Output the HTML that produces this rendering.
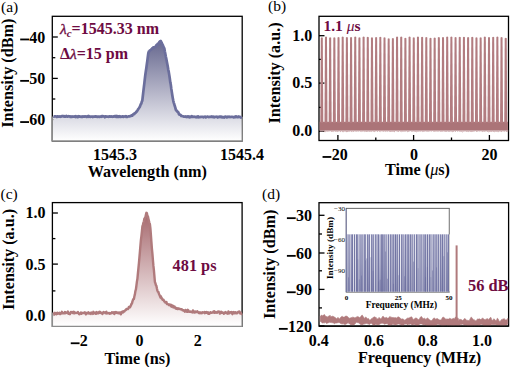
<!DOCTYPE html>
<html><head><meta charset="utf-8"><style>
html,body{margin:0;padding:0;background:#fff;width:510px;height:367px;overflow:hidden}
svg{display:block}
text{font-family:"Liberation Serif",serif}
</style></head><body>
<svg width="510" height="367" viewBox="0 0 510 367" font-family="Liberation Serif, serif"><defs><linearGradient id="ga" x1="0" y1="41" x2="0" y2="141" gradientUnits="userSpaceOnUse"><stop offset="0" stop-color="#67688f"/><stop offset="1" stop-color="#ffffff"/></linearGradient><linearGradient id="gc" x1="0" y1="212" x2="0" y2="326" gradientUnits="userSpaceOnUse"><stop offset="0" stop-color="#a5676c"/><stop offset="1" stop-color="#ffffff"/></linearGradient></defs>
<text x="1.00" y="11.50" font-size="15.5" text-anchor="start" font-weight="normal" fill="#000" >(a)</text>
<line x1="52.30" y1="37.00" x2="57.80" y2="37.00" stroke="#000" stroke-width="1.3"/>
<rect x="20.20" y="38.56" width="8.8" height="1.8" fill="#000"/>
<text x="29.30" y="42.50" font-size="16.0" text-anchor="start" font-weight="bold" fill="#000" >40</text>
<line x1="52.30" y1="78.40" x2="57.80" y2="78.40" stroke="#000" stroke-width="1.3"/>
<rect x="20.20" y="79.96" width="8.8" height="1.8" fill="#000"/>
<text x="29.30" y="83.90" font-size="16.0" text-anchor="start" font-weight="bold" fill="#000" >50</text>
<line x1="52.30" y1="119.60" x2="57.80" y2="119.60" stroke="#000" stroke-width="1.3"/>
<rect x="20.20" y="121.16" width="8.8" height="1.8" fill="#000"/>
<text x="29.30" y="125.10" font-size="16.0" text-anchor="start" font-weight="bold" fill="#000" >60</text>
<line x1="52.30" y1="57.70" x2="55.30" y2="57.70" stroke="#000" stroke-width="1.3"/>
<line x1="52.30" y1="99.00" x2="55.30" y2="99.00" stroke="#000" stroke-width="1.3"/>
<text x="93.00" y="159.80" font-size="16.0" text-anchor="start" font-weight="bold" fill="#000" >1545.3</text>
<text x="220.00" y="159.80" font-size="16.0" text-anchor="start" font-weight="bold" fill="#000" >1545.4</text>
<text x="147.30" y="176.90" font-size="16.2" text-anchor="middle" font-weight="bold" fill="#000" >Wavelength (nm)</text>
<text transform="translate(12.50,73.20) rotate(-90)" x="0" y="0" font-size="16.2" text-anchor="middle" font-weight="bold" fill="#000">Intensity (dBm)</text>
<rect x="52.3" y="16.3" width="189.89999999999998" height="124.60000000000001" fill="none" stroke="#000" stroke-width="1.3"/>
<path d="M53.30,116.60 53.80,116.68 54.30,116.52 54.80,116.35 55.30,116.47 55.80,116.32 56.30,116.62 56.80,116.98 57.30,116.46 57.80,116.43 58.30,116.74 58.80,116.70 59.30,116.63 59.80,116.34 60.30,116.59 60.80,116.79 61.30,116.22 61.80,116.47 62.30,116.07 62.80,116.24 63.30,116.08 63.80,116.53 64.30,116.25 64.80,116.68 65.30,116.64 65.80,116.55 66.30,115.90 66.80,116.45 67.30,116.59 67.80,116.63 68.30,116.17 68.80,116.47 69.30,116.33 69.80,116.37 70.30,116.90 70.80,116.37 71.30,116.59 71.80,116.85 72.30,116.44 72.80,116.57 73.30,116.63 73.80,116.62 74.30,116.26 74.80,116.62 75.30,116.98 75.80,116.17 76.30,116.84 76.80,116.63 77.30,116.42 77.80,117.16 78.30,116.81 78.80,116.26 79.30,116.62 79.80,116.76 80.30,116.55 80.80,116.79 81.30,116.58 81.80,116.79 82.30,117.00 82.80,116.41 83.30,116.66 83.80,116.47 84.30,116.64 84.80,116.27 85.30,116.44 85.80,116.55 86.30,116.85 86.80,116.92 87.30,116.23 87.80,116.38 88.30,116.78 88.80,116.04 89.30,116.47 89.80,116.57 90.30,116.95 90.80,116.79 91.30,116.51 91.80,116.50 92.30,116.53 92.80,117.03 93.30,116.48 93.80,116.51 94.30,116.70 94.80,116.57 95.30,116.54 95.80,116.29 96.30,116.60 96.80,116.48 97.30,116.93 97.80,116.78 98.30,116.59 98.80,116.79 99.30,116.50 99.80,116.89 100.30,116.60 100.80,116.76 101.30,116.24 101.80,116.70 102.30,116.13 102.80,116.03 103.30,116.51 103.80,116.35 104.30,116.65 104.80,117.23 105.30,116.37 105.80,116.43 106.30,116.66 106.80,116.74 107.30,116.55 107.80,116.54 108.30,116.80 108.80,116.75 109.30,116.31 109.80,116.58 110.30,116.61 110.80,116.30 111.30,116.67 111.80,116.36 112.30,116.87 112.80,116.65 113.30,116.63 113.80,116.43 114.30,116.57 114.80,116.04 115.30,116.28 115.80,116.70 116.30,116.00 116.80,116.84 117.30,116.11 117.80,116.81 118.30,116.36 118.80,116.82 119.30,116.64 119.80,116.17 120.30,116.95 120.80,117.00 121.30,116.58 121.80,116.52 122.30,116.56 122.80,116.33 123.30,116.91 123.80,116.45 124.30,116.59 124.80,116.38 125.30,116.42 125.80,116.24 126.30,116.95 126.80,116.56 127.30,116.87 127.80,116.60 128.30,116.36 128.80,116.38 129.30,116.23 129.80,116.30 130.30,116.11 130.80,116.05 131.30,115.50 131.80,115.31 132.30,115.65 132.80,114.65 133.30,114.19 133.80,114.23 134.30,114.18 134.80,113.03 135.30,113.03 135.80,112.56 136.30,111.66 136.80,111.61 137.30,110.64 137.80,109.92 138.30,108.94 138.80,108.53 139.30,107.50 139.80,106.86 140.30,105.49 140.80,104.14 141.30,103.53 141.80,101.68 142.30,100.58 142.80,96.24 143.30,91.88 143.80,87.61 144.30,83.68 144.80,79.17 145.30,74.96 145.80,71.45 146.30,68.21 146.80,64.51 147.30,60.86 147.80,57.04 148.30,53.25 148.80,51.59 149.30,51.15 149.80,50.40 150.30,50.15 150.80,49.78 151.30,49.35 151.80,48.93 152.30,48.18 152.80,48.42 153.30,47.34 153.80,47.62 154.30,47.20 154.80,46.99 155.30,46.96 155.80,46.54 156.30,45.37 156.80,44.69 157.30,44.87 157.80,43.84 158.30,43.60 158.80,43.32 159.30,42.10 159.80,41.45 160.30,41.59 160.80,41.01 161.30,42.04 161.80,43.23 162.30,44.09 162.80,45.02 163.30,46.51 163.80,47.39 164.30,48.32 164.80,51.26 165.30,53.76 165.80,56.54 166.30,58.80 166.80,61.55 167.30,64.11 167.80,66.79 168.30,69.75 168.80,72.13 169.30,75.10 169.80,78.47 170.30,82.32 170.80,84.75 171.30,88.76 171.80,91.87 172.30,95.27 172.80,98.24 173.30,100.87 173.80,102.87 174.30,104.31 174.80,106.02 175.30,107.59 175.80,109.66 176.30,110.41 176.80,110.50 177.30,111.63 177.80,111.97 178.30,112.31 178.80,113.77 179.30,114.76 179.80,114.72 180.30,114.70 180.80,115.08 181.30,115.97 181.80,116.02 182.30,116.17 182.80,116.23 183.30,116.34 183.80,116.64 184.30,116.66 184.80,116.65 185.30,116.39 185.80,116.91 186.30,116.61 186.80,117.11 187.30,116.45 187.80,116.77 188.30,116.81 188.80,116.44 189.30,117.29 189.80,117.22 190.30,116.69 190.80,117.03 191.30,116.92 191.80,116.09 192.30,116.89 192.80,116.81 193.30,116.85 193.80,116.53 194.30,116.75 194.80,116.78 195.30,117.17 195.80,116.93 196.30,116.84 196.80,117.27 197.30,116.68 197.80,116.73 198.30,116.34 198.80,117.28 199.30,117.12 199.80,117.11 200.30,117.04 200.80,116.88 201.30,116.91 201.80,116.79 202.30,116.80 202.80,116.87 203.30,117.28 203.80,117.02 204.30,116.85 204.80,116.70 205.30,116.69 205.80,117.32 206.30,117.01 206.80,116.89 207.30,116.78 207.80,116.57 208.30,116.86 208.80,117.13 209.30,116.77 209.80,116.82 210.30,116.82 210.80,116.92 211.30,116.44 211.80,116.83 212.30,116.65 212.80,117.14 213.30,116.68 213.80,117.06 214.30,117.33 214.80,116.81 215.30,116.74 215.80,116.96 216.30,116.91 216.80,116.63 217.30,117.04 217.80,117.48 218.30,116.84 218.80,116.86 219.30,116.63 219.80,117.01 220.30,116.57 220.80,116.61 221.30,117.28 221.80,116.67 222.30,117.23 222.80,117.36 223.30,117.01 223.80,117.09 224.30,117.48 224.80,116.88 225.30,116.77 225.80,116.56 226.30,116.96 226.80,117.36 227.30,117.22 227.80,116.68 228.30,116.71 228.80,116.81 229.30,117.04 229.80,116.90 230.30,117.02 230.80,117.04 231.30,116.88 231.80,116.95 232.30,117.02 232.80,116.94 233.30,117.11 233.80,117.49 234.30,117.14 234.80,116.99 235.30,116.50 235.80,117.09 236.30,116.43 236.80,116.59 237.30,117.22 237.80,117.18 238.30,116.94 238.80,116.51 239.30,116.89 239.80,116.80 240.30,117.17 240.80,117.63 241.30,117.06 241.80,116.78 L242.20,140.90 L52.30,140.90 Z" fill="url(#ga)"/>
<polyline points="52.30,116.60 52.30,140.90 242.20,140.90 242.20,116.78" fill="none" stroke="#8c8c8c" stroke-width="1.3"/>
<polyline points="53.30,116.60 53.80,116.68 54.30,116.52 54.80,116.35 55.30,116.47 55.80,116.32 56.30,116.62 56.80,116.98 57.30,116.46 57.80,116.43 58.30,116.74 58.80,116.70 59.30,116.63 59.80,116.34 60.30,116.59 60.80,116.79 61.30,116.22 61.80,116.47 62.30,116.07 62.80,116.24 63.30,116.08 63.80,116.53 64.30,116.25 64.80,116.68 65.30,116.64 65.80,116.55 66.30,115.90 66.80,116.45 67.30,116.59 67.80,116.63 68.30,116.17 68.80,116.47 69.30,116.33 69.80,116.37 70.30,116.90 70.80,116.37 71.30,116.59 71.80,116.85 72.30,116.44 72.80,116.57 73.30,116.63 73.80,116.62 74.30,116.26 74.80,116.62 75.30,116.98 75.80,116.17 76.30,116.84 76.80,116.63 77.30,116.42 77.80,117.16 78.30,116.81 78.80,116.26 79.30,116.62 79.80,116.76 80.30,116.55 80.80,116.79 81.30,116.58 81.80,116.79 82.30,117.00 82.80,116.41 83.30,116.66 83.80,116.47 84.30,116.64 84.80,116.27 85.30,116.44 85.80,116.55 86.30,116.85 86.80,116.92 87.30,116.23 87.80,116.38 88.30,116.78 88.80,116.04 89.30,116.47 89.80,116.57 90.30,116.95 90.80,116.79 91.30,116.51 91.80,116.50 92.30,116.53 92.80,117.03 93.30,116.48 93.80,116.51 94.30,116.70 94.80,116.57 95.30,116.54 95.80,116.29 96.30,116.60 96.80,116.48 97.30,116.93 97.80,116.78 98.30,116.59 98.80,116.79 99.30,116.50 99.80,116.89 100.30,116.60 100.80,116.76 101.30,116.24 101.80,116.70 102.30,116.13 102.80,116.03 103.30,116.51 103.80,116.35 104.30,116.65 104.80,117.23 105.30,116.37 105.80,116.43 106.30,116.66 106.80,116.74 107.30,116.55 107.80,116.54 108.30,116.80 108.80,116.75 109.30,116.31 109.80,116.58 110.30,116.61 110.80,116.30 111.30,116.67 111.80,116.36 112.30,116.87 112.80,116.65 113.30,116.63 113.80,116.43 114.30,116.57 114.80,116.04 115.30,116.28 115.80,116.70 116.30,116.00 116.80,116.84 117.30,116.11 117.80,116.81 118.30,116.36 118.80,116.82 119.30,116.64 119.80,116.17 120.30,116.95 120.80,117.00 121.30,116.58 121.80,116.52 122.30,116.56 122.80,116.33 123.30,116.91 123.80,116.45 124.30,116.59 124.80,116.38 125.30,116.42 125.80,116.24 126.30,116.95 126.80,116.56 127.30,116.87 127.80,116.60 128.30,116.36 128.80,116.38 129.30,116.23 129.80,116.30 130.30,116.11 130.80,116.05 131.30,115.50 131.80,115.31 132.30,115.65 132.80,114.65 133.30,114.19 133.80,114.23 134.30,114.18 134.80,113.03 135.30,113.03 135.80,112.56 136.30,111.66 136.80,111.61 137.30,110.64 137.80,109.92 138.30,108.94 138.80,108.53 139.30,107.50 139.80,106.86 140.30,105.49 140.80,104.14 141.30,103.53 141.80,101.68 142.30,100.58 142.80,96.24 143.30,91.88 143.80,87.61 144.30,83.68 144.80,79.17 145.30,74.96 145.80,71.45 146.30,68.21 146.80,64.51 147.30,60.86 147.80,57.04 148.30,53.25 148.80,51.59 149.30,51.15 149.80,50.40 150.30,50.15 150.80,49.78 151.30,49.35 151.80,48.93 152.30,48.18 152.80,48.42 153.30,47.34 153.80,47.62 154.30,47.20 154.80,46.99 155.30,46.96 155.80,46.54 156.30,45.37 156.80,44.69 157.30,44.87 157.80,43.84 158.30,43.60 158.80,43.32 159.30,42.10 159.80,41.45 160.30,41.59 160.80,41.01 161.30,42.04 161.80,43.23 162.30,44.09 162.80,45.02 163.30,46.51 163.80,47.39 164.30,48.32 164.80,51.26 165.30,53.76 165.80,56.54 166.30,58.80 166.80,61.55 167.30,64.11 167.80,66.79 168.30,69.75 168.80,72.13 169.30,75.10 169.80,78.47 170.30,82.32 170.80,84.75 171.30,88.76 171.80,91.87 172.30,95.27 172.80,98.24 173.30,100.87 173.80,102.87 174.30,104.31 174.80,106.02 175.30,107.59 175.80,109.66 176.30,110.41 176.80,110.50 177.30,111.63 177.80,111.97 178.30,112.31 178.80,113.77 179.30,114.76 179.80,114.72 180.30,114.70 180.80,115.08 181.30,115.97 181.80,116.02 182.30,116.17 182.80,116.23 183.30,116.34 183.80,116.64 184.30,116.66 184.80,116.65 185.30,116.39 185.80,116.91 186.30,116.61 186.80,117.11 187.30,116.45 187.80,116.77 188.30,116.81 188.80,116.44 189.30,117.29 189.80,117.22 190.30,116.69 190.80,117.03 191.30,116.92 191.80,116.09 192.30,116.89 192.80,116.81 193.30,116.85 193.80,116.53 194.30,116.75 194.80,116.78 195.30,117.17 195.80,116.93 196.30,116.84 196.80,117.27 197.30,116.68 197.80,116.73 198.30,116.34 198.80,117.28 199.30,117.12 199.80,117.11 200.30,117.04 200.80,116.88 201.30,116.91 201.80,116.79 202.30,116.80 202.80,116.87 203.30,117.28 203.80,117.02 204.30,116.85 204.80,116.70 205.30,116.69 205.80,117.32 206.30,117.01 206.80,116.89 207.30,116.78 207.80,116.57 208.30,116.86 208.80,117.13 209.30,116.77 209.80,116.82 210.30,116.82 210.80,116.92 211.30,116.44 211.80,116.83 212.30,116.65 212.80,117.14 213.30,116.68 213.80,117.06 214.30,117.33 214.80,116.81 215.30,116.74 215.80,116.96 216.30,116.91 216.80,116.63 217.30,117.04 217.80,117.48 218.30,116.84 218.80,116.86 219.30,116.63 219.80,117.01 220.30,116.57 220.80,116.61 221.30,117.28 221.80,116.67 222.30,117.23 222.80,117.36 223.30,117.01 223.80,117.09 224.30,117.48 224.80,116.88 225.30,116.77 225.80,116.56 226.30,116.96 226.80,117.36 227.30,117.22 227.80,116.68 228.30,116.71 228.80,116.81 229.30,117.04 229.80,116.90 230.30,117.02 230.80,117.04 231.30,116.88 231.80,116.95 232.30,117.02 232.80,116.94 233.30,117.11 233.80,117.49 234.30,117.14 234.80,116.99 235.30,116.50 235.80,117.09 236.30,116.43 236.80,116.59 237.30,117.22 237.80,117.18 238.30,116.94 238.80,116.51 239.30,116.89 239.80,116.80 240.30,117.17 240.80,117.63 241.30,117.06 241.80,116.78" fill="none" stroke="#6b6e9c" stroke-width="2.7" stroke-linejoin="round"/>
<text x="60.00" y="33.60" font-size="16" text-anchor="start" font-weight="bold" fill="#6e0b42" ><tspan font-style="italic" font-weight="normal" font-size="15.5" stroke="#6e0b42" stroke-width="0.35">λ</tspan><tspan font-style="italic" font-size="11" dy="3.5">c</tspan><tspan dy="-3.5">=1545.33 nm</tspan></text>
<text x="60.00" y="58.60" font-size="16" text-anchor="start" font-weight="bold" fill="#6e0b42" >Δ<tspan font-style="italic" font-weight="normal" font-size="15.5" stroke="#6e0b42" stroke-width="0.35">λ</tspan>=15 pm</text>
<text x="268.00" y="11.00" font-size="15.5" text-anchor="start" font-weight="normal" fill="#000" >(b)</text>
<line x1="319.00" y1="35.70" x2="324.50" y2="35.70" stroke="#000" stroke-width="1.3"/>
<text x="292.20" y="40.70" font-size="16.0" text-anchor="start" font-weight="bold" fill="#000" >1.0</text>
<line x1="319.00" y1="83.10" x2="324.50" y2="83.10" stroke="#000" stroke-width="1.3"/>
<text x="292.20" y="88.20" font-size="16.0" text-anchor="start" font-weight="bold" fill="#000" >0.5</text>
<line x1="319.00" y1="131.30" x2="324.50" y2="131.30" stroke="#000" stroke-width="1.3"/>
<text x="292.20" y="135.50" font-size="16.0" text-anchor="start" font-weight="bold" fill="#000" >0.0</text>
<line x1="319.00" y1="59.40" x2="322.00" y2="59.40" stroke="#000" stroke-width="1.3"/>
<line x1="319.00" y1="107.40" x2="322.00" y2="107.40" stroke="#000" stroke-width="1.3"/>
<line x1="337.90" y1="140.50" x2="337.90" y2="135.00" stroke="#000" stroke-width="1.3"/>
<rect x="322.55" y="156.06" width="8.8" height="1.8" fill="#000"/>
<text x="331.65" y="160.00" font-size="16.0" text-anchor="start" font-weight="bold" fill="#000" >20</text>
<line x1="413.60" y1="140.50" x2="413.60" y2="135.00" stroke="#000" stroke-width="1.3"/>
<text x="410.00" y="160.00" font-size="16.0" text-anchor="start" font-weight="bold" fill="#000" >0</text>
<line x1="489.40" y1="140.50" x2="489.40" y2="135.00" stroke="#000" stroke-width="1.3"/>
<text x="481.40" y="160.00" font-size="16.0" text-anchor="start" font-weight="bold" fill="#000" >20</text>
<line x1="375.80" y1="140.50" x2="375.80" y2="137.50" stroke="#000" stroke-width="1.3"/>
<line x1="451.50" y1="140.50" x2="451.50" y2="137.50" stroke="#000" stroke-width="1.3"/>
<text x="417.50" y="175.00" font-size="16.2" text-anchor="middle" font-weight="bold" fill="#000" >Time (<tspan font-style="italic" font-weight="normal">μ</tspan>s)</text>
<text transform="translate(280.40,72.90) rotate(-90)" x="0" y="0" font-size="16.2" text-anchor="middle" font-weight="bold" fill="#000">Intensity (a.u.)</text>
<rect x="319.0" y="16.3" width="189.5" height="124.2" fill="none" stroke="#000" stroke-width="1.3"/>
<rect x="319.6" y="121.8" width="188.3" height="8.8" fill="#ab7478"/>
<polyline points="320.00,130.79 320.70,131.18 321.40,131.14 322.10,130.80 322.80,131.24 323.50,130.80 324.20,131.59 324.90,131.57 325.60,131.58 326.30,131.03 327.00,131.38 327.70,131.15 328.40,131.06 329.10,131.08 329.80,130.75 330.50,130.69 331.20,131.48 331.90,131.13 332.60,131.28 333.30,131.55 334.00,130.59 334.70,130.93 335.40,131.26 336.10,131.34 336.80,131.07 337.50,131.56 338.20,131.27 338.90,130.78 339.60,130.87 340.30,131.48 341.00,131.36 341.70,130.54 342.40,131.67 343.10,131.41 343.80,131.67 344.50,131.07 345.20,131.10 345.90,130.81 346.60,132.09 347.30,131.14 348.00,131.76 348.70,130.97 349.40,131.26 350.10,130.62 350.80,131.07 351.50,131.54 352.20,130.76 352.90,131.58 353.60,131.32 354.30,130.83 355.00,131.02 355.70,131.04 356.40,131.18 357.10,131.01 357.80,130.91 358.50,131.09 359.20,130.84 359.90,130.75 360.60,131.18 361.30,131.51 362.00,130.66 362.70,131.20 363.40,130.97 364.10,130.86 364.80,131.50 365.50,131.02 366.20,131.72 366.90,130.93 367.60,131.34 368.30,131.12 369.00,130.94 369.70,131.41 370.40,131.15 371.10,131.41 371.80,131.18 372.50,130.82 373.20,131.16 373.90,131.22 374.60,131.54 375.30,130.88 376.00,131.19 376.70,130.60 377.40,131.43 378.10,130.82 378.80,130.57 379.50,131.18 380.20,131.59 380.90,130.67 381.60,130.82 382.30,130.94 383.00,130.80 383.70,131.33 384.40,130.92 385.10,130.95 385.80,131.40 386.50,130.94 387.20,131.35 387.90,130.86 388.60,130.78 389.30,130.56 390.00,131.85 390.70,131.09 391.40,131.29 392.10,131.19 392.80,131.26 393.50,131.22 394.20,131.87 394.90,130.84 395.60,130.65 396.30,130.85 397.00,130.73 397.70,131.46 398.40,131.49 399.10,130.86 399.80,130.71 400.50,131.08 401.20,131.69 401.90,130.21 402.60,131.38 403.30,130.82 404.00,131.56 404.70,130.82 405.40,131.10 406.10,130.67 406.80,130.86 407.50,131.69 408.20,131.49 408.90,131.06 409.60,130.90 410.30,130.54 411.00,131.06 411.70,131.19 412.40,131.17 413.10,131.17 413.80,130.81 414.50,131.18 415.20,131.19 415.90,131.65 416.60,131.85 417.30,131.15 418.00,130.93 418.70,131.18 419.40,130.99 420.10,130.94 420.80,131.18 421.50,130.83 422.20,131.41 422.90,131.16 423.60,131.29 424.30,131.14 425.00,130.95 425.70,130.87 426.40,131.12 427.10,131.01 427.80,131.28 428.50,131.20 429.20,130.72 429.90,131.22 430.60,130.73 431.30,130.98 432.00,131.10 432.70,130.47 433.40,131.23 434.10,131.25 434.80,131.14 435.50,131.05 436.20,131.07 436.90,130.86 437.60,131.11 438.30,131.01 439.00,131.23 439.70,130.78 440.40,131.28 441.10,131.25 441.80,131.15 442.50,131.05 443.20,131.39 443.90,130.62 444.60,131.36 445.30,131.29 446.00,131.30 446.70,131.33 447.40,130.97 448.10,131.11 448.80,131.42 449.50,131.35 450.20,131.27 450.90,130.67 451.60,131.39 452.30,131.61 453.00,131.55 453.70,131.28 454.40,130.65 455.10,131.53 455.80,131.15 456.50,130.31 457.20,131.33 457.90,130.68 458.60,130.75 459.30,130.98 460.00,131.65 460.70,131.07 461.40,131.29 462.10,131.81 462.80,131.76 463.50,131.16 464.20,131.12 464.90,130.76 465.60,130.96 466.30,131.35 467.00,131.34 467.70,131.24 468.40,131.55 469.10,130.93 469.80,131.18 470.50,131.46 471.20,131.40 471.90,131.57 472.60,131.34 473.30,131.09 474.00,131.33 474.70,130.85 475.40,130.63 476.10,131.40 476.80,131.18 477.50,131.31 478.20,130.61 478.90,131.07 479.60,130.99 480.30,130.90 481.00,130.41 481.70,131.08 482.40,131.51 483.10,131.33 483.80,130.99 484.50,131.19 485.20,131.46 485.90,130.23 486.60,131.16 487.30,131.39 488.00,131.44 488.70,131.80 489.40,131.60 490.10,131.31 490.80,131.31 491.50,131.48 492.20,131.01 492.90,131.19 493.60,131.52 494.30,131.89 495.00,131.14 495.70,131.18 496.40,131.27 497.10,131.67 497.80,131.19 498.50,131.71 499.20,130.86 499.90,131.13 500.60,131.13 501.30,131.48 502.00,131.57 502.70,130.67 503.40,130.88 504.10,131.32 504.80,130.97 505.50,130.67 506.20,131.56 506.90,131.37 507.60,131.37 508.30,131.03" fill="none" stroke="#c9a3a6" stroke-width="1.0"/>
<path d="M320.80,37.72 Q321.80,36.72 322.80,37.72 L323.30,123 L320.30,123 Z" fill="#b27c80"/>
<path d="M324.98,37.09 Q325.98,36.09 326.98,37.09 L327.48,123 L324.48,123 Z" fill="#b27c80"/>
<path d="M329.16,37.78 Q330.16,36.78 331.16,37.78 L331.66,123 L328.66,123 Z" fill="#b27c80"/>
<path d="M333.34,37.63 Q334.34,36.63 335.34,37.63 L335.84,123 L332.84,123 Z" fill="#b27c80"/>
<path d="M337.52,37.58 Q338.52,36.58 339.52,37.58 L340.02,123 L337.02,123 Z" fill="#b27c80"/>
<path d="M341.70,37.06 Q342.70,36.06 343.70,37.06 L344.20,123 L341.20,123 Z" fill="#b27c80"/>
<path d="M345.88,37.46 Q346.88,36.46 347.88,37.46 L348.38,123 L345.38,123 Z" fill="#b27c80"/>
<path d="M350.06,37.44 Q351.06,36.44 352.06,37.44 L352.56,123 L349.56,123 Z" fill="#b27c80"/>
<path d="M354.24,37.11 Q355.24,36.11 356.24,37.11 L356.74,123 L353.74,123 Z" fill="#b27c80"/>
<path d="M358.42,37.64 Q359.42,36.64 360.42,37.64 L360.92,123 L357.92,123 Z" fill="#b27c80"/>
<path d="M362.60,36.96 Q363.60,35.96 364.60,36.96 L365.10,123 L362.10,123 Z" fill="#b27c80"/>
<path d="M366.78,37.18 Q367.78,36.18 368.78,37.18 L369.28,123 L366.28,123 Z" fill="#b27c80"/>
<path d="M370.96,37.63 Q371.96,36.63 372.96,37.63 L373.46,123 L370.46,123 Z" fill="#b27c80"/>
<path d="M375.14,37.41 Q376.14,36.41 377.14,37.41 L377.64,123 L374.64,123 Z" fill="#b27c80"/>
<path d="M379.32,37.25 Q380.32,36.25 381.32,37.25 L381.82,123 L378.82,123 Z" fill="#b27c80"/>
<path d="M383.50,37.87 Q384.50,36.87 385.50,37.87 L386.00,123 L383.00,123 Z" fill="#b27c80"/>
<path d="M387.68,38.69 Q388.68,37.69 389.68,38.69 L390.18,123 L387.18,123 Z" fill="#b27c80"/>
<path d="M391.86,38.50 Q392.86,37.50 393.86,38.50 L394.36,123 L391.36,123 Z" fill="#b27c80"/>
<path d="M396.04,36.95 Q397.04,35.95 398.04,36.95 L398.54,123 L395.54,123 Z" fill="#b27c80"/>
<path d="M400.22,37.08 Q401.22,36.08 402.22,37.08 L402.72,123 L399.72,123 Z" fill="#b27c80"/>
<path d="M404.40,38.13 Q405.40,37.13 406.40,38.13 L406.90,123 L403.90,123 Z" fill="#b27c80"/>
<path d="M408.58,37.00 Q409.58,36.00 410.58,37.00 L411.08,123 L408.08,123 Z" fill="#b27c80"/>
<path d="M412.76,37.68 Q413.76,36.68 414.76,37.68 L415.26,123 L412.26,123 Z" fill="#b27c80"/>
<path d="M416.94,36.99 Q417.94,35.99 418.94,36.99 L419.44,123 L416.44,123 Z" fill="#b27c80"/>
<path d="M421.12,37.26 Q422.12,36.26 423.12,37.26 L423.62,123 L420.62,123 Z" fill="#b27c80"/>
<path d="M425.30,37.56 Q426.30,36.56 427.30,37.56 L427.80,123 L424.80,123 Z" fill="#b27c80"/>
<path d="M429.48,38.22 Q430.48,37.22 431.48,38.22 L431.98,123 L428.98,123 Z" fill="#b27c80"/>
<path d="M433.66,38.05 Q434.66,37.05 435.66,38.05 L436.16,123 L433.16,123 Z" fill="#b27c80"/>
<path d="M437.84,37.43 Q438.84,36.43 439.84,37.43 L440.34,123 L437.34,123 Z" fill="#b27c80"/>
<path d="M442.02,37.51 Q443.02,36.51 444.02,37.51 L444.52,123 L441.52,123 Z" fill="#b27c80"/>
<path d="M446.20,37.01 Q447.20,36.01 448.20,37.01 L448.70,123 L445.70,123 Z" fill="#b27c80"/>
<path d="M450.38,37.07 Q451.38,36.07 452.38,37.07 L452.88,123 L449.88,123 Z" fill="#b27c80"/>
<path d="M454.56,37.40 Q455.56,36.40 456.56,37.40 L457.06,123 L454.06,123 Z" fill="#b27c80"/>
<path d="M458.74,37.17 Q459.74,36.17 460.74,37.17 L461.24,123 L458.24,123 Z" fill="#b27c80"/>
<path d="M462.92,37.30 Q463.92,36.30 464.92,37.30 L465.42,123 L462.42,123 Z" fill="#b27c80"/>
<path d="M467.10,37.61 Q468.10,36.61 469.10,37.61 L469.60,123 L466.60,123 Z" fill="#b27c80"/>
<path d="M471.28,37.19 Q472.28,36.19 473.28,37.19 L473.78,123 L470.78,123 Z" fill="#b27c80"/>
<path d="M475.46,37.72 Q476.46,36.72 477.46,37.72 L477.96,123 L474.96,123 Z" fill="#b27c80"/>
<path d="M479.64,37.81 Q480.64,36.81 481.64,37.81 L482.14,123 L479.14,123 Z" fill="#b27c80"/>
<path d="M483.82,36.92 Q484.82,35.92 485.82,36.92 L486.32,123 L483.32,123 Z" fill="#b27c80"/>
<path d="M488.00,37.49 Q489.00,36.49 490.00,37.49 L490.50,123 L487.50,123 Z" fill="#b27c80"/>
<path d="M492.18,37.18 Q493.18,36.18 494.18,37.18 L494.68,123 L491.68,123 Z" fill="#b27c80"/>
<path d="M496.36,37.08 Q497.36,36.08 498.36,37.08 L498.86,123 L495.86,123 Z" fill="#b27c80"/>
<path d="M500.54,37.46 Q501.54,36.46 502.54,37.46 L503.04,123 L500.04,123 Z" fill="#b27c80"/>
<path d="M504.72,38.18 Q505.72,37.18 506.72,38.18 L507.22,123 L504.22,123 Z" fill="#b27c80"/>
<text x="323.40" y="31.10" font-size="15.5" text-anchor="start" font-weight="bold" fill="#6e0b42" >1.1 <tspan font-style="italic" font-weight="normal">μ</tspan>s</text>
<text x="0.50" y="199.00" font-size="15.5" text-anchor="start" font-weight="normal" fill="#000" >(c)</text>
<line x1="52.40" y1="213.00" x2="57.90" y2="213.00" stroke="#000" stroke-width="1.3"/>
<text x="25.60" y="217.70" font-size="16.0" text-anchor="start" font-weight="bold" fill="#000" >1.0</text>
<line x1="52.40" y1="264.10" x2="57.90" y2="264.10" stroke="#000" stroke-width="1.3"/>
<text x="25.60" y="269.70" font-size="16.0" text-anchor="start" font-weight="bold" fill="#000" >0.5</text>
<line x1="52.40" y1="315.50" x2="57.90" y2="315.50" stroke="#000" stroke-width="1.3"/>
<text x="25.60" y="321.00" font-size="16.0" text-anchor="start" font-weight="bold" fill="#000" >0.0</text>
<line x1="52.40" y1="238.60" x2="55.40" y2="238.60" stroke="#000" stroke-width="1.3"/>
<line x1="52.40" y1="290.90" x2="55.40" y2="290.90" stroke="#000" stroke-width="1.3"/>
<rect x="70.75" y="342.36" width="8.8" height="1.8" fill="#000"/>
<text x="79.85" y="346.30" font-size="16.0" text-anchor="start" font-weight="bold" fill="#000" >2</text>
<text x="135.40" y="346.30" font-size="16.0" text-anchor="start" font-weight="bold" fill="#000" >0</text>
<text x="193.70" y="346.30" font-size="16.0" text-anchor="start" font-weight="bold" fill="#000" >2</text>
<text x="137.50" y="363.50" font-size="16.2" text-anchor="middle" font-weight="bold" fill="#000" >Time (ns)</text>
<text transform="translate(13.60,259.40) rotate(-90)" x="0" y="0" font-size="16.2" text-anchor="middle" font-weight="bold" fill="#000">Intensity (a.u.)</text>
<rect x="52.4" y="202.6" width="189.7" height="123.70000000000002" fill="none" stroke="#000" stroke-width="1.3"/>
<path d="M53.40,312.38 53.90,312.77 54.40,314.52 54.90,313.57 55.40,312.93 55.90,313.43 56.40,314.23 56.90,312.86 57.40,312.78 57.90,313.73 58.40,313.30 58.90,313.40 59.40,312.70 59.90,314.15 60.40,314.03 60.90,313.34 61.40,313.41 61.90,311.78 62.40,313.38 62.90,312.88 63.40,313.26 63.90,313.41 64.40,312.80 64.90,311.99 65.40,313.22 65.90,312.56 66.40,312.80 66.90,312.64 67.40,312.80 67.90,311.61 68.40,313.73 68.90,313.15 69.40,313.67 69.90,314.19 70.40,313.01 70.90,311.92 71.40,312.46 71.90,312.28 72.40,312.70 72.90,313.05 73.40,311.80 73.90,313.21 74.40,312.09 74.90,313.18 75.40,312.93 75.90,312.81 76.40,312.96 76.90,312.68 77.40,312.63 77.90,311.99 78.40,312.98 78.90,314.11 79.40,314.19 79.90,313.79 80.40,313.42 80.90,312.59 81.40,313.87 81.90,312.97 82.40,312.96 82.90,312.83 83.40,313.06 83.90,312.74 84.40,312.95 84.90,312.35 85.40,312.78 85.90,314.37 86.40,312.96 86.90,312.86 87.40,313.32 87.90,313.42 88.40,312.33 88.90,312.88 89.40,313.55 89.90,313.16 90.40,313.07 90.90,313.93 91.40,312.59 91.90,313.05 92.40,312.69 92.90,313.89 93.40,311.83 93.90,312.60 94.40,312.68 94.90,313.40 95.40,313.36 95.90,313.84 96.40,312.06 96.90,313.45 97.40,312.82 97.90,312.60 98.40,313.32 98.90,312.45 99.40,311.75 99.90,312.78 100.40,312.10 100.90,312.61 101.40,313.22 101.90,313.19 102.40,313.95 102.90,312.88 103.40,312.08 103.90,312.55 104.40,312.45 104.90,312.27 105.40,313.26 105.90,312.61 106.40,311.81 106.90,313.42 107.40,312.93 107.90,313.21 108.40,313.06 108.90,313.38 109.40,313.02 109.90,313.74 110.40,313.25 110.90,313.24 111.40,313.25 111.90,312.13 112.40,312.90 112.90,312.84 113.40,313.12 113.90,312.18 114.40,313.98 114.90,313.06 115.40,312.27 115.90,311.97 116.40,312.83 116.90,312.95 117.40,312.57 117.90,313.06 118.40,312.62 118.90,313.33 119.40,312.57 119.90,312.98 120.40,313.47 120.90,314.27 121.40,311.98 121.90,312.15 122.40,311.78 122.90,312.60 123.40,311.29 123.90,311.54 124.40,311.50 124.90,310.58 125.40,310.25 125.90,310.18 126.40,308.86 126.90,308.90 127.40,309.17 127.90,309.16 128.40,308.42 128.90,306.89 129.40,307.09 129.90,307.26 130.40,306.53 130.90,305.57 131.40,303.97 131.90,303.63 132.40,301.65 132.90,300.05 133.40,299.02 133.90,299.12 134.40,296.22 134.90,294.39 135.40,291.02 135.90,289.48 136.40,285.76 136.90,281.66 137.40,278.87 137.90,273.46 138.40,268.32 138.90,263.49 139.40,257.58 139.90,251.96 140.40,245.77 140.90,240.10 141.40,236.06 141.90,231.31 142.40,226.45 142.90,224.88 143.40,222.65 143.90,221.31 144.40,218.53 144.90,218.08 145.40,217.18 145.90,214.75 146.40,212.81 146.90,213.21 147.40,216.05 147.90,216.28 148.40,218.63 148.90,220.84 149.40,222.87 149.90,224.02 150.40,228.32 150.90,234.80 151.40,241.87 151.90,248.55 152.40,253.65 152.90,259.74 153.40,265.72 153.90,270.08 154.40,275.99 154.90,282.00 155.40,283.15 155.90,285.27 156.40,285.88 156.90,288.57 157.40,290.64 157.90,291.83 158.40,291.85 158.90,293.79 159.40,294.78 159.90,295.98 160.40,297.43 160.90,296.29 161.40,298.29 161.90,298.21 162.40,299.66 162.90,299.51 163.40,299.58 163.90,300.73 164.40,301.58 164.90,301.74 165.40,302.60 165.90,302.57 166.40,301.92 166.90,303.99 167.40,304.12 167.90,304.04 168.40,304.24 168.90,305.07 169.40,304.43 169.90,304.53 170.40,305.09 170.90,306.16 171.40,304.87 171.90,306.67 172.40,305.82 172.90,305.79 173.40,307.46 173.90,306.89 174.40,306.42 174.90,307.23 175.40,308.26 175.90,308.67 176.40,307.94 176.90,308.62 177.40,308.92 177.90,308.22 178.40,308.94 178.90,308.83 179.40,308.65 179.90,308.79 180.40,309.25 180.90,309.34 181.40,309.11 181.90,309.31 182.40,310.35 182.90,309.93 183.40,310.45 183.90,310.76 184.40,310.52 184.90,311.64 185.40,309.91 185.90,311.01 186.40,310.45 186.90,311.87 187.40,311.90 187.90,309.83 188.40,310.54 188.90,311.64 189.40,311.83 189.90,311.92 190.40,311.50 190.90,311.86 191.40,312.03 191.90,311.64 192.40,312.36 192.90,310.43 193.40,312.22 193.90,311.27 194.40,312.52 194.90,311.85 195.40,311.51 195.90,312.31 196.40,311.59 196.90,311.64 197.40,311.30 197.90,312.27 198.40,312.64 198.90,313.00 199.40,312.35 199.90,313.12 200.40,312.51 200.90,312.45 201.40,312.85 201.90,313.15 202.40,312.31 202.90,312.37 203.40,312.43 203.90,312.58 204.40,311.99 204.90,313.15 205.40,312.30 205.90,312.82 206.40,312.05 206.90,312.76 207.40,312.79 207.90,312.30 208.40,313.77 208.90,312.79 209.40,313.63 209.90,313.15 210.40,312.18 210.90,312.35 211.40,312.84 211.90,312.62 212.40,312.62 212.90,312.42 213.40,311.51 213.90,312.46 214.40,311.27 214.90,312.83 215.40,312.17 215.90,312.18 216.40,312.49 216.90,312.78 217.40,311.76 217.90,311.58 218.40,311.99 218.90,311.41 219.40,312.06 219.90,313.60 220.40,312.01 220.90,313.04 221.40,311.83 221.90,312.84 222.40,312.47 222.90,312.63 223.40,313.01 223.90,313.72 224.40,312.79 224.90,312.75 225.40,312.10 225.90,313.03 226.40,312.54 226.90,313.19 227.40,312.67 227.90,313.74 228.40,311.51 228.90,312.53 229.40,313.24 229.90,312.50 230.40,312.24 230.90,312.56 231.40,311.90 231.90,312.80 232.40,314.20 232.90,313.42 233.40,312.07 233.90,312.22 234.40,312.50 234.90,313.35 235.40,312.26 235.90,312.34 236.40,313.29 236.90,313.28 237.40,312.54 237.90,312.10 238.40,311.84 238.90,312.36 239.40,311.44 239.90,313.23 240.40,312.41 240.90,313.08 241.40,313.92 241.90,313.50 L242.10,326.30 L52.40,326.30 Z" fill="url(#gc)"/>
<polyline points="52.40,312.38 52.40,326.30 242.10,326.30 242.10,313.50" fill="none" stroke="#8c8c8c" stroke-width="1.3"/>
<polyline points="53.40,312.38 53.90,312.77 54.40,314.52 54.90,313.57 55.40,312.93 55.90,313.43 56.40,314.23 56.90,312.86 57.40,312.78 57.90,313.73 58.40,313.30 58.90,313.40 59.40,312.70 59.90,314.15 60.40,314.03 60.90,313.34 61.40,313.41 61.90,311.78 62.40,313.38 62.90,312.88 63.40,313.26 63.90,313.41 64.40,312.80 64.90,311.99 65.40,313.22 65.90,312.56 66.40,312.80 66.90,312.64 67.40,312.80 67.90,311.61 68.40,313.73 68.90,313.15 69.40,313.67 69.90,314.19 70.40,313.01 70.90,311.92 71.40,312.46 71.90,312.28 72.40,312.70 72.90,313.05 73.40,311.80 73.90,313.21 74.40,312.09 74.90,313.18 75.40,312.93 75.90,312.81 76.40,312.96 76.90,312.68 77.40,312.63 77.90,311.99 78.40,312.98 78.90,314.11 79.40,314.19 79.90,313.79 80.40,313.42 80.90,312.59 81.40,313.87 81.90,312.97 82.40,312.96 82.90,312.83 83.40,313.06 83.90,312.74 84.40,312.95 84.90,312.35 85.40,312.78 85.90,314.37 86.40,312.96 86.90,312.86 87.40,313.32 87.90,313.42 88.40,312.33 88.90,312.88 89.40,313.55 89.90,313.16 90.40,313.07 90.90,313.93 91.40,312.59 91.90,313.05 92.40,312.69 92.90,313.89 93.40,311.83 93.90,312.60 94.40,312.68 94.90,313.40 95.40,313.36 95.90,313.84 96.40,312.06 96.90,313.45 97.40,312.82 97.90,312.60 98.40,313.32 98.90,312.45 99.40,311.75 99.90,312.78 100.40,312.10 100.90,312.61 101.40,313.22 101.90,313.19 102.40,313.95 102.90,312.88 103.40,312.08 103.90,312.55 104.40,312.45 104.90,312.27 105.40,313.26 105.90,312.61 106.40,311.81 106.90,313.42 107.40,312.93 107.90,313.21 108.40,313.06 108.90,313.38 109.40,313.02 109.90,313.74 110.40,313.25 110.90,313.24 111.40,313.25 111.90,312.13 112.40,312.90 112.90,312.84 113.40,313.12 113.90,312.18 114.40,313.98 114.90,313.06 115.40,312.27 115.90,311.97 116.40,312.83 116.90,312.95 117.40,312.57 117.90,313.06 118.40,312.62 118.90,313.33 119.40,312.57 119.90,312.98 120.40,313.47 120.90,314.27 121.40,311.98 121.90,312.15 122.40,311.78 122.90,312.60 123.40,311.29 123.90,311.54 124.40,311.50 124.90,310.58 125.40,310.25 125.90,310.18 126.40,308.86 126.90,308.90 127.40,309.17 127.90,309.16 128.40,308.42 128.90,306.89 129.40,307.09 129.90,307.26 130.40,306.53 130.90,305.57 131.40,303.97 131.90,303.63 132.40,301.65 132.90,300.05 133.40,299.02 133.90,299.12 134.40,296.22 134.90,294.39 135.40,291.02 135.90,289.48 136.40,285.76 136.90,281.66 137.40,278.87 137.90,273.46 138.40,268.32 138.90,263.49 139.40,257.58 139.90,251.96 140.40,245.77 140.90,240.10 141.40,236.06 141.90,231.31 142.40,226.45 142.90,224.88 143.40,222.65 143.90,221.31 144.40,218.53 144.90,218.08 145.40,217.18 145.90,214.75 146.40,212.81 146.90,213.21 147.40,216.05 147.90,216.28 148.40,218.63 148.90,220.84 149.40,222.87 149.90,224.02 150.40,228.32 150.90,234.80 151.40,241.87 151.90,248.55 152.40,253.65 152.90,259.74 153.40,265.72 153.90,270.08 154.40,275.99 154.90,282.00 155.40,283.15 155.90,285.27 156.40,285.88 156.90,288.57 157.40,290.64 157.90,291.83 158.40,291.85 158.90,293.79 159.40,294.78 159.90,295.98 160.40,297.43 160.90,296.29 161.40,298.29 161.90,298.21 162.40,299.66 162.90,299.51 163.40,299.58 163.90,300.73 164.40,301.58 164.90,301.74 165.40,302.60 165.90,302.57 166.40,301.92 166.90,303.99 167.40,304.12 167.90,304.04 168.40,304.24 168.90,305.07 169.40,304.43 169.90,304.53 170.40,305.09 170.90,306.16 171.40,304.87 171.90,306.67 172.40,305.82 172.90,305.79 173.40,307.46 173.90,306.89 174.40,306.42 174.90,307.23 175.40,308.26 175.90,308.67 176.40,307.94 176.90,308.62 177.40,308.92 177.90,308.22 178.40,308.94 178.90,308.83 179.40,308.65 179.90,308.79 180.40,309.25 180.90,309.34 181.40,309.11 181.90,309.31 182.40,310.35 182.90,309.93 183.40,310.45 183.90,310.76 184.40,310.52 184.90,311.64 185.40,309.91 185.90,311.01 186.40,310.45 186.90,311.87 187.40,311.90 187.90,309.83 188.40,310.54 188.90,311.64 189.40,311.83 189.90,311.92 190.40,311.50 190.90,311.86 191.40,312.03 191.90,311.64 192.40,312.36 192.90,310.43 193.40,312.22 193.90,311.27 194.40,312.52 194.90,311.85 195.40,311.51 195.90,312.31 196.40,311.59 196.90,311.64 197.40,311.30 197.90,312.27 198.40,312.64 198.90,313.00 199.40,312.35 199.90,313.12 200.40,312.51 200.90,312.45 201.40,312.85 201.90,313.15 202.40,312.31 202.90,312.37 203.40,312.43 203.90,312.58 204.40,311.99 204.90,313.15 205.40,312.30 205.90,312.82 206.40,312.05 206.90,312.76 207.40,312.79 207.90,312.30 208.40,313.77 208.90,312.79 209.40,313.63 209.90,313.15 210.40,312.18 210.90,312.35 211.40,312.84 211.90,312.62 212.40,312.62 212.90,312.42 213.40,311.51 213.90,312.46 214.40,311.27 214.90,312.83 215.40,312.17 215.90,312.18 216.40,312.49 216.90,312.78 217.40,311.76 217.90,311.58 218.40,311.99 218.90,311.41 219.40,312.06 219.90,313.60 220.40,312.01 220.90,313.04 221.40,311.83 221.90,312.84 222.40,312.47 222.90,312.63 223.40,313.01 223.90,313.72 224.40,312.79 224.90,312.75 225.40,312.10 225.90,313.03 226.40,312.54 226.90,313.19 227.40,312.67 227.90,313.74 228.40,311.51 228.90,312.53 229.40,313.24 229.90,312.50 230.40,312.24 230.90,312.56 231.40,311.90 231.90,312.80 232.40,314.20 232.90,313.42 233.40,312.07 233.90,312.22 234.40,312.50 234.90,313.35 235.40,312.26 235.90,312.34 236.40,313.29 236.90,313.28 237.40,312.54 237.90,312.10 238.40,311.84 238.90,312.36 239.40,311.44 239.90,313.23 240.40,312.41 240.90,313.08 241.40,313.92 241.90,313.50" fill="none" stroke="#b07a7c" stroke-width="2.4" stroke-linejoin="round"/>
<text x="172.60" y="271.20" font-size="16.3" text-anchor="start" font-weight="bold" fill="#6e0b42" >481 ps</text>
<text x="262.00" y="198.50" font-size="15.5" text-anchor="start" font-weight="normal" fill="#000" >(d)</text>
<line x1="319.00" y1="215.30" x2="324.50" y2="215.30" stroke="#000" stroke-width="1.3"/>
<rect x="286.90" y="217.26" width="8.8" height="1.8" fill="#000"/>
<text x="296.00" y="221.20" font-size="16.0" text-anchor="start" font-weight="bold" fill="#000" >30</text>
<line x1="319.00" y1="253.00" x2="324.50" y2="253.00" stroke="#000" stroke-width="1.3"/>
<rect x="286.90" y="254.96" width="8.8" height="1.8" fill="#000"/>
<text x="296.00" y="258.90" font-size="16.0" text-anchor="start" font-weight="bold" fill="#000" >60</text>
<line x1="319.00" y1="289.40" x2="324.50" y2="289.40" stroke="#000" stroke-width="1.3"/>
<rect x="286.90" y="291.36" width="8.8" height="1.8" fill="#000"/>
<text x="296.00" y="295.30" font-size="16.0" text-anchor="start" font-weight="bold" fill="#000" >90</text>
<line x1="319.00" y1="326.00" x2="324.50" y2="326.00" stroke="#000" stroke-width="1.3"/>
<rect x="278.90" y="327.96" width="8.8" height="1.8" fill="#000"/>
<text x="288.00" y="331.90" font-size="16.0" text-anchor="start" font-weight="bold" fill="#000" >120</text>
<line x1="319.00" y1="234.00" x2="322.00" y2="234.00" stroke="#000" stroke-width="1.3"/>
<line x1="319.00" y1="270.80" x2="322.00" y2="270.80" stroke="#000" stroke-width="1.3"/>
<line x1="319.00" y1="307.90" x2="322.00" y2="307.90" stroke="#000" stroke-width="1.3"/>
<text x="308.80" y="346.00" font-size="16.0" text-anchor="start" font-weight="bold" fill="#000" >0.4</text>
<text x="364.00" y="346.00" font-size="16.0" text-anchor="start" font-weight="bold" fill="#000" >0.6</text>
<text x="417.80" y="346.00" font-size="16.0" text-anchor="start" font-weight="bold" fill="#000" >0.8</text>
<text x="472.00" y="346.00" font-size="16.0" text-anchor="start" font-weight="bold" fill="#000" >1.0</text>
<text x="419.60" y="362.80" font-size="16.2" text-anchor="middle" font-weight="bold" fill="#000" >Frequency (MHz)</text>
<text transform="translate(275.20,264.30) rotate(-90)" x="0" y="0" font-size="16.2" text-anchor="middle" font-weight="bold" fill="#000">Intensity (dBm)</text>
<rect x="319.0" y="202.7" width="189.60000000000002" height="123.40000000000003" fill="none" stroke="#000" stroke-width="1.3"/>
<path d="M320.20,316.37 320.90,315.62 321.60,315.09 322.30,316.26 323.00,314.98 323.70,315.27 324.40,314.40 325.10,315.57 325.80,316.27 326.50,316.58 327.20,316.63 327.90,317.17 328.60,315.95 329.30,316.09 330.00,315.17 330.70,316.38 331.40,316.53 332.10,316.46 332.80,316.10 333.50,316.43 334.20,317.12 334.90,317.13 335.60,317.80 336.30,318.84 337.00,318.45 337.70,317.56 338.40,317.68 339.10,318.87 339.80,318.84 340.50,317.45 341.20,316.78 341.90,316.57 342.60,316.41 343.30,317.09 344.00,317.01 344.70,317.09 345.40,316.09 346.10,316.29 346.80,316.07 347.50,316.62 348.20,317.21 348.90,317.88 349.60,318.25 350.30,317.91 351.00,317.77 351.70,317.46 352.40,317.13 353.10,317.51 353.80,317.03 354.50,317.90 355.20,317.54 355.90,317.74 356.60,316.80 357.30,316.45 358.00,316.94 358.70,316.84 359.40,317.80 360.10,317.33 360.80,316.54 361.50,315.58 362.20,314.96 362.90,316.14 363.60,317.09 364.30,318.48 365.00,317.83 365.70,316.90 366.40,317.50 367.10,318.38 367.80,318.79 368.50,318.44 369.20,319.56 369.90,320.25 370.60,319.79 371.30,318.72 372.00,318.38 372.70,318.01 373.40,317.29 374.10,317.01 374.80,316.86 375.50,317.39 376.20,317.43 376.90,319.16 377.60,318.77 378.30,318.67 379.00,317.38 379.70,318.07 380.40,318.69 381.10,318.53 381.80,317.89 382.50,316.50 383.20,316.28 383.90,317.00 384.60,317.88 385.30,317.84 386.00,317.38 386.70,317.38 387.40,318.18 388.10,318.07 388.80,317.94 389.50,316.74 390.20,316.46 390.90,317.44 391.60,317.25 392.30,317.69 393.00,316.97 393.70,317.92 394.40,317.68 395.10,317.55 395.80,317.75 396.50,318.14 397.20,317.20 397.90,317.14 398.60,316.74 399.30,317.44 400.00,317.65 400.70,318.43 401.40,319.19 402.10,318.83 402.80,318.98 403.50,319.13 404.20,319.99 404.90,320.24 405.60,319.57 406.30,318.89 407.00,318.61 407.70,317.98 408.40,318.19 409.10,317.50 409.80,318.02 410.50,317.02 411.20,316.84 411.90,317.03 412.60,318.41 413.30,319.39 414.00,319.37 414.70,318.82 415.40,317.88 416.10,318.14 416.80,318.12 417.50,318.88 418.20,319.59 418.90,319.71 419.60,318.62 420.30,317.28 421.00,316.54 421.70,316.71 422.40,317.84 423.10,318.73 423.80,318.57 424.50,318.24 425.20,318.79 425.90,319.40 426.60,318.72 427.30,317.89 428.00,318.24 428.70,318.93 429.40,319.73 430.10,320.22 430.80,320.51 431.50,320.62 432.20,320.34 432.90,318.94 433.60,318.17 434.30,318.00 435.00,318.60 435.70,319.15 436.40,318.81 437.10,318.54 437.80,318.83 438.50,319.37 439.20,319.97 439.90,319.71 440.60,319.93 441.30,320.00 442.00,318.25 442.70,317.36 443.40,316.95 444.10,317.72 444.80,318.19 445.50,319.05 446.20,319.32 446.90,318.64 447.60,319.08 448.30,319.11 449.00,319.07 449.70,318.14 450.40,318.61 451.10,318.88 451.80,319.17 452.50,318.70 453.20,318.59 453.90,318.28 454.60,318.94 455.30,317.09 456.00,317.17 456.70,316.73 457.40,318.53 458.10,317.99 458.80,320.76 459.50,319.27 460.20,319.58 460.90,319.24 461.60,319.73 462.30,320.46 463.00,320.26 463.70,319.49 464.40,318.55 465.10,318.65 465.80,319.27 466.50,320.28 467.20,320.23 467.90,320.49 468.60,320.55 469.30,320.42 470.00,319.10 470.70,317.71 471.40,316.88 472.10,318.48 472.80,318.66 473.50,320.05 474.20,319.53 474.90,320.86 475.60,320.75 476.30,320.39 477.00,319.40 477.70,318.93 478.40,319.08 479.10,318.91 479.80,318.85 480.50,319.60 481.20,318.99 481.90,319.15 482.60,317.85 483.30,318.83 484.00,319.14 484.70,319.58 485.40,319.89 486.10,318.63 486.80,319.24 487.50,318.53 488.20,319.68 488.90,319.20 489.60,318.18 490.30,317.46 491.00,317.49 491.70,319.64 492.40,320.19 493.10,320.21 493.80,318.67 494.50,319.27 495.20,320.08 495.90,320.83 496.60,319.98 497.30,318.20 498.00,318.65 498.70,320.17 499.40,321.39 500.10,321.59 500.80,320.47 501.50,319.59 502.20,319.63 502.90,318.71 503.60,319.12 504.30,318.57 505.00,319.68 505.70,320.00 506.40,320.06 507.10,319.21 507.80,318.33 L507.80,324.02 507.10,324.67 506.40,325.05 505.70,325.21 505.00,325.76 504.30,325.77 503.60,325.54 502.90,325.41 502.20,325.80 501.50,325.53 500.80,325.31 500.10,325.71 499.40,324.95 498.70,325.05 498.00,325.41 497.30,325.10 496.60,324.94 495.90,324.77 495.20,324.69 494.50,324.74 493.80,324.64 493.10,324.72 492.40,324.83 491.70,324.61 491.00,325.34 490.30,325.62 489.60,325.48 488.90,325.80 488.20,325.80 487.50,325.80 486.80,325.80 486.10,325.80 485.40,325.80 484.70,325.80 484.00,325.80 483.30,325.28 482.60,324.65 481.90,324.80 481.20,324.34 480.50,324.70 479.80,325.41 479.10,325.62 478.40,325.68 477.70,325.37 477.00,325.17 476.30,325.54 475.60,325.50 474.90,325.80 474.20,325.80 473.50,325.22 472.80,325.69 472.10,325.80 471.40,325.80 470.70,325.78 470.00,325.59 469.30,325.68 468.60,325.73 467.90,325.80 467.20,325.80 466.50,325.19 465.80,325.63 465.10,325.04 464.40,325.04 463.70,325.38 463.00,324.10 462.30,324.20 461.60,324.73 460.90,324.35 460.20,325.41 459.50,325.16 458.80,325.43 458.10,325.67 457.40,325.43 456.70,325.58 456.00,325.04 455.30,325.62 454.60,325.63 453.90,325.40 453.20,325.80 452.50,325.39 451.80,325.45 451.10,325.80 450.40,325.12 449.70,325.80 449.00,325.80 448.30,325.32 447.60,325.80 446.90,325.27 446.20,325.00 445.50,325.40 444.80,325.49 444.10,325.66 443.40,325.80 442.70,325.80 442.00,325.80 441.30,325.54 440.60,324.88 439.90,325.12 439.20,324.77 438.50,324.45 437.80,324.61 437.10,324.58 436.40,325.17 435.70,325.65 435.00,325.65 434.30,325.80 433.60,325.80 432.90,325.70 432.20,325.80 431.50,325.80 430.80,325.64 430.10,325.80 429.40,325.80 428.70,325.80 428.00,325.80 427.30,325.80 426.60,325.80 425.90,325.21 425.20,324.93 424.50,324.65 423.80,324.88 423.10,324.81 422.40,324.62 421.70,324.12 421.00,323.98 420.30,324.04 419.60,324.32 418.90,324.83 418.20,325.80 417.50,325.80 416.80,325.80 416.10,325.80 415.40,324.95 414.70,324.46 414.00,324.67 413.30,324.80 412.60,324.92 411.90,324.93 411.20,324.62 410.50,324.07 409.80,324.19 409.10,324.50 408.40,324.31 407.70,325.01 407.00,324.65 406.30,323.90 405.60,324.25 404.90,323.63 404.20,324.70 403.50,325.29 402.80,325.57 402.10,325.80 401.40,325.27 400.70,325.03 400.00,324.21 399.30,324.17 398.60,323.96 397.90,324.20 397.20,324.33 396.50,324.76 395.80,325.61 395.10,324.72 394.40,324.82 393.70,324.79 393.00,323.53 392.30,324.80 391.60,324.88 390.90,324.68 390.20,325.63 389.50,325.41 388.80,325.22 388.10,324.71 387.40,323.77 386.70,323.67 386.00,323.97 385.30,323.92 384.60,324.29 383.90,323.72 383.20,323.55 382.50,323.31 381.80,323.23 381.10,323.47 380.40,323.78 379.70,324.36 379.00,324.56 378.30,324.95 377.60,324.65 376.90,324.76 376.20,324.44 375.50,324.33 374.80,325.12 374.10,325.33 373.40,325.16 372.70,324.65 372.00,323.66 371.30,323.27 370.60,323.40 369.90,324.22 369.20,324.50 368.50,324.02 367.80,324.15 367.10,323.27 366.40,323.49 365.70,323.77 365.00,323.60 364.30,324.32 363.60,324.01 362.90,324.49 362.20,325.28 361.50,324.87 360.80,324.82 360.10,324.11 359.40,323.54 358.70,323.05 358.00,322.42 357.30,322.65 356.60,322.24 355.90,322.73 355.20,323.84 354.50,324.35 353.80,325.14 353.10,324.85 352.40,324.91 351.70,324.63 351.00,325.02 350.30,324.52 349.60,323.75 348.90,323.71 348.20,322.49 347.50,323.28 346.80,323.77 346.10,323.93 345.40,324.55 344.70,324.15 344.00,324.62 343.30,323.58 342.60,323.75 341.90,324.30 341.20,323.41 340.50,323.41 339.80,322.74 339.10,322.63 338.40,322.60 337.70,322.69 337.00,323.02 336.30,323.06 335.60,322.94 334.90,323.63 334.20,323.59 333.50,323.07 332.80,322.82 332.10,322.70 331.40,322.61 330.70,322.47 330.00,322.50 329.30,322.27 328.60,322.65 327.90,322.91 327.20,323.16 326.50,323.50 325.80,322.75 325.10,322.36 324.40,322.99 323.70,322.81 323.00,323.03 322.30,323.08 321.60,322.16 320.90,321.57 320.20,321.45 Z" fill="#b07a7c" stroke="#b07a7c" stroke-width="0.6" stroke-linejoin="round"/>
<line x1="456.6" y1="245.4" x2="456.6" y2="322" stroke="#b07a7c" stroke-width="2.0"/>
<line x1="319.0" y1="326.1" x2="508.6" y2="326.1" stroke="#000" stroke-width="1.3"/>
<text x="468.00" y="291.00" font-size="16.4" text-anchor="start" font-weight="bold" fill="#6e0b42" >56 dB</text>
<rect x="346.2" y="208.3" width="103.10000000000002" height="83.80000000000001" fill="#fff" stroke="#444" stroke-width="0.8"/>
<line x1="346.2" y1="208.70000000000002" x2="346.2" y2="292.1" stroke="#8083ad" stroke-width="1.0"/>
<line x1="449.3" y1="208.70000000000002" x2="449.3" y2="292.1" stroke="#9a9a9a" stroke-width="0.9"/>
<defs><linearGradient id="gi" x1="0" y1="234.4" x2="0" y2="291.6" gradientUnits="userSpaceOnUse"><stop offset="0" stop-color="#c3c4db"/><stop offset="0.5" stop-color="#aeb0cc"/><stop offset="1" stop-color="#9395b9"/></linearGradient></defs>
<rect x="346.7" y="234.4" width="102.10000000000002" height="57.2" fill="url(#gi)"/>
<rect x="346.42" y="234.4" width="0.95" height="57.2" fill="#64679a" fill-opacity="0.85"/>
<rect x="347.67" y="234.4" width="0.8" height="57.2" fill="#ffffff" fill-opacity="0.69"/>
<rect x="348.05" y="277.33" width="0.8" height="14.27" fill="#6d70a0" fill-opacity="0.6"/>
<rect x="348.50" y="234.4" width="0.95" height="57.2" fill="#64679a" fill-opacity="0.79"/>
<rect x="350.04" y="234.4" width="0.8" height="57.2" fill="#ffffff" fill-opacity="0.70"/>
<rect x="350.67" y="234.4" width="0.95" height="57.2" fill="#64679a" fill-opacity="0.76"/>
<rect x="352.05" y="234.4" width="0.95" height="57.2" fill="#64679a" fill-opacity="0.83"/>
<rect x="353.26" y="234.4" width="0.8" height="57.2" fill="#ffffff" fill-opacity="0.83"/>
<rect x="354.08" y="234.4" width="0.95" height="57.2" fill="#64679a" fill-opacity="0.89"/>
<rect x="355.32" y="234.4" width="0.8" height="57.2" fill="#ffffff" fill-opacity="0.78"/>
<rect x="356.06" y="234.4" width="0.95" height="57.2" fill="#64679a" fill-opacity="0.84"/>
<rect x="357.63" y="259.40" width="0.8" height="32.20" fill="#6d70a0" fill-opacity="0.6"/>
<rect x="357.32" y="234.4" width="0.95" height="57.2" fill="#64679a" fill-opacity="0.80"/>
<rect x="358.64" y="234.4" width="0.8" height="57.2" fill="#ffffff" fill-opacity="0.83"/>
<rect x="358.85" y="279.39" width="0.8" height="12.21" fill="#6d70a0" fill-opacity="0.6"/>
<rect x="359.50" y="234.4" width="0.95" height="57.2" fill="#64679a" fill-opacity="0.78"/>
<rect x="361.28" y="275.60" width="0.8" height="16.00" fill="#6d70a0" fill-opacity="0.6"/>
<rect x="361.58" y="234.4" width="0.95" height="57.2" fill="#64679a" fill-opacity="0.77"/>
<rect x="362.93" y="234.4" width="0.8" height="57.2" fill="#ffffff" fill-opacity="0.77"/>
<rect x="363.66" y="234.4" width="0.95" height="57.2" fill="#64679a" fill-opacity="0.85"/>
<rect x="364.99" y="234.4" width="0.8" height="57.2" fill="#ffffff" fill-opacity="0.74"/>
<rect x="365.22" y="260.34" width="0.8" height="31.26" fill="#6d70a0" fill-opacity="0.6"/>
<rect x="364.80" y="234.4" width="0.95" height="57.2" fill="#64679a" fill-opacity="0.91"/>
<rect x="366.03" y="234.4" width="0.8" height="57.2" fill="#ffffff" fill-opacity="0.78"/>
<rect x="366.40" y="258.41" width="0.8" height="33.19" fill="#6d70a0" fill-opacity="0.6"/>
<rect x="367.20" y="234.4" width="0.95" height="57.2" fill="#64679a" fill-opacity="0.88"/>
<rect x="368.87" y="234.4" width="0.95" height="57.2" fill="#64679a" fill-opacity="0.84"/>
<rect x="370.12" y="234.4" width="0.8" height="57.2" fill="#ffffff" fill-opacity="0.93"/>
<rect x="370.59" y="257.17" width="0.8" height="34.43" fill="#6d70a0" fill-opacity="0.6"/>
<rect x="371.20" y="234.4" width="0.95" height="57.2" fill="#64679a" fill-opacity="0.81"/>
<rect x="372.69" y="270.87" width="0.8" height="20.73" fill="#6d70a0" fill-opacity="0.6"/>
<rect x="372.78" y="234.4" width="0.95" height="57.2" fill="#64679a" fill-opacity="0.77"/>
<rect x="374.29" y="234.4" width="0.8" height="57.2" fill="#ffffff" fill-opacity="0.93"/>
<rect x="374.87" y="234.4" width="0.95" height="57.2" fill="#64679a" fill-opacity="0.80"/>
<rect x="376.20" y="234.4" width="0.8" height="57.2" fill="#ffffff" fill-opacity="0.62"/>
<rect x="376.52" y="234.4" width="0.95" height="57.2" fill="#64679a" fill-opacity="0.82"/>
<rect x="377.68" y="234.4" width="0.8" height="57.2" fill="#ffffff" fill-opacity="0.77"/>
<rect x="378.25" y="281.50" width="0.8" height="10.10" fill="#6d70a0" fill-opacity="0.6"/>
<rect x="377.95" y="234.4" width="0.95" height="57.2" fill="#64679a" fill-opacity="0.92"/>
<rect x="379.78" y="279.65" width="0.8" height="11.95" fill="#6d70a0" fill-opacity="0.6"/>
<rect x="380.84" y="234.4" width="0.95" height="57.2" fill="#64679a" fill-opacity="0.82"/>
<rect x="381.90" y="234.4" width="0.95" height="57.2" fill="#64679a" fill-opacity="0.77"/>
<rect x="383.59" y="234.4" width="0.95" height="57.2" fill="#64679a" fill-opacity="0.86"/>
<rect x="385.11" y="234.4" width="0.8" height="57.2" fill="#ffffff" fill-opacity="0.72"/>
<rect x="385.18" y="251.51" width="0.8" height="40.09" fill="#6d70a0" fill-opacity="0.6"/>
<rect x="385.53" y="234.4" width="0.95" height="57.2" fill="#64679a" fill-opacity="0.79"/>
<rect x="387.07" y="234.4" width="0.8" height="57.2" fill="#ffffff" fill-opacity="0.60"/>
<rect x="387.02" y="278.74" width="0.8" height="12.86" fill="#6d70a0" fill-opacity="0.6"/>
<rect x="387.88" y="234.4" width="0.95" height="57.2" fill="#64679a" fill-opacity="0.92"/>
<rect x="389.27" y="234.4" width="0.8" height="57.2" fill="#ffffff" fill-opacity="0.79"/>
<rect x="389.88" y="234.4" width="0.95" height="57.2" fill="#64679a" fill-opacity="0.83"/>
<rect x="391.15" y="234.4" width="0.8" height="57.2" fill="#ffffff" fill-opacity="0.66"/>
<rect x="391.52" y="234.4" width="0.95" height="57.2" fill="#64679a" fill-opacity="0.82"/>
<rect x="392.87" y="234.4" width="0.8" height="57.2" fill="#ffffff" fill-opacity="0.70"/>
<rect x="393.11" y="283.78" width="0.8" height="7.82" fill="#6d70a0" fill-opacity="0.6"/>
<rect x="393.23" y="234.4" width="0.95" height="57.2" fill="#64679a" fill-opacity="0.94"/>
<rect x="394.70" y="234.4" width="0.8" height="57.2" fill="#ffffff" fill-opacity="0.64"/>
<rect x="395.05" y="234.4" width="0.95" height="57.2" fill="#64679a" fill-opacity="0.92"/>
<rect x="396.81" y="234.4" width="0.95" height="57.2" fill="#64679a" fill-opacity="0.81"/>
<rect x="398.05" y="234.4" width="0.8" height="57.2" fill="#ffffff" fill-opacity="0.63"/>
<rect x="398.57" y="275.19" width="0.8" height="16.41" fill="#6d70a0" fill-opacity="0.6"/>
<rect x="398.95" y="234.4" width="0.95" height="57.2" fill="#64679a" fill-opacity="0.94"/>
<rect x="400.22" y="234.4" width="0.8" height="57.2" fill="#ffffff" fill-opacity="0.89"/>
<rect x="401.19" y="234.4" width="0.95" height="57.2" fill="#64679a" fill-opacity="0.82"/>
<rect x="402.67" y="234.4" width="0.8" height="57.2" fill="#ffffff" fill-opacity="0.73"/>
<rect x="402.62" y="234.4" width="0.95" height="57.2" fill="#64679a" fill-opacity="0.84"/>
<rect x="404.32" y="276.25" width="0.8" height="15.35" fill="#6d70a0" fill-opacity="0.6"/>
<rect x="405.13" y="234.4" width="0.95" height="57.2" fill="#64679a" fill-opacity="0.86"/>
<rect x="406.50" y="234.4" width="0.8" height="57.2" fill="#ffffff" fill-opacity="0.64"/>
<rect x="406.74" y="234.4" width="0.95" height="57.2" fill="#64679a" fill-opacity="0.76"/>
<rect x="408.31" y="234.4" width="0.95" height="57.2" fill="#64679a" fill-opacity="0.91"/>
<rect x="409.75" y="234.4" width="0.8" height="57.2" fill="#ffffff" fill-opacity="0.89"/>
<rect x="410.11" y="234.4" width="0.95" height="57.2" fill="#64679a" fill-opacity="0.91"/>
<rect x="411.63" y="234.4" width="0.8" height="57.2" fill="#ffffff" fill-opacity="0.69"/>
<rect x="411.71" y="234.4" width="0.95" height="57.2" fill="#64679a" fill-opacity="0.82"/>
<rect x="412.99" y="234.4" width="0.8" height="57.2" fill="#ffffff" fill-opacity="0.60"/>
<rect x="413.20" y="261.60" width="0.8" height="30.00" fill="#6d70a0" fill-opacity="0.6"/>
<rect x="413.84" y="234.4" width="0.95" height="57.2" fill="#64679a" fill-opacity="0.84"/>
<rect x="415.11" y="234.4" width="0.8" height="57.2" fill="#ffffff" fill-opacity="0.73"/>
<rect x="416.08" y="234.4" width="0.95" height="57.2" fill="#64679a" fill-opacity="0.87"/>
<rect x="417.46" y="234.4" width="0.8" height="57.2" fill="#ffffff" fill-opacity="0.91"/>
<rect x="417.81" y="268.17" width="0.8" height="23.43" fill="#6d70a0" fill-opacity="0.6"/>
<rect x="417.53" y="234.4" width="0.95" height="57.2" fill="#64679a" fill-opacity="0.94"/>
<rect x="418.77" y="234.4" width="0.8" height="57.2" fill="#ffffff" fill-opacity="0.87"/>
<rect x="419.50" y="234.4" width="0.95" height="57.2" fill="#64679a" fill-opacity="0.93"/>
<rect x="420.86" y="234.4" width="0.8" height="57.2" fill="#ffffff" fill-opacity="0.86"/>
<rect x="421.31" y="234.4" width="0.95" height="57.2" fill="#64679a" fill-opacity="0.87"/>
<rect x="422.69" y="234.4" width="0.8" height="57.2" fill="#ffffff" fill-opacity="0.79"/>
<rect x="423.43" y="234.4" width="0.95" height="57.2" fill="#64679a" fill-opacity="0.90"/>
<rect x="425.06" y="276.94" width="0.8" height="14.66" fill="#6d70a0" fill-opacity="0.6"/>
<rect x="425.12" y="234.4" width="0.95" height="57.2" fill="#64679a" fill-opacity="0.81"/>
<rect x="426.60" y="234.4" width="0.8" height="57.2" fill="#ffffff" fill-opacity="0.61"/>
<rect x="426.91" y="267.10" width="0.8" height="24.50" fill="#6d70a0" fill-opacity="0.6"/>
<rect x="427.06" y="234.4" width="0.95" height="57.2" fill="#64679a" fill-opacity="0.91"/>
<rect x="428.33" y="234.4" width="0.8" height="57.2" fill="#ffffff" fill-opacity="0.79"/>
<rect x="428.85" y="234.4" width="0.95" height="57.2" fill="#64679a" fill-opacity="0.93"/>
<rect x="430.30" y="234.4" width="0.8" height="57.2" fill="#ffffff" fill-opacity="0.82"/>
<rect x="430.66" y="277.16" width="0.8" height="14.44" fill="#6d70a0" fill-opacity="0.6"/>
<rect x="430.51" y="234.4" width="0.95" height="57.2" fill="#64679a" fill-opacity="0.93"/>
<rect x="431.73" y="234.4" width="0.8" height="57.2" fill="#ffffff" fill-opacity="0.87"/>
<rect x="432.16" y="270.49" width="0.8" height="21.11" fill="#6d70a0" fill-opacity="0.6"/>
<rect x="432.71" y="234.4" width="0.95" height="57.2" fill="#64679a" fill-opacity="0.90"/>
<rect x="433.92" y="234.4" width="0.8" height="57.2" fill="#ffffff" fill-opacity="0.69"/>
<rect x="434.55" y="234.4" width="0.95" height="57.2" fill="#64679a" fill-opacity="0.92"/>
<rect x="435.84" y="234.4" width="0.8" height="57.2" fill="#ffffff" fill-opacity="0.76"/>
<rect x="436.09" y="267.36" width="0.8" height="24.24" fill="#6d70a0" fill-opacity="0.6"/>
<rect x="436.26" y="234.4" width="0.95" height="57.2" fill="#64679a" fill-opacity="0.83"/>
<rect x="437.59" y="234.4" width="0.8" height="57.2" fill="#ffffff" fill-opacity="0.84"/>
<rect x="437.86" y="234.4" width="0.95" height="57.2" fill="#64679a" fill-opacity="0.93"/>
<rect x="439.37" y="234.4" width="0.8" height="57.2" fill="#ffffff" fill-opacity="0.76"/>
<rect x="439.89" y="234.4" width="0.95" height="57.2" fill="#64679a" fill-opacity="0.86"/>
<rect x="441.92" y="234.4" width="0.95" height="57.2" fill="#64679a" fill-opacity="0.91"/>
<rect x="443.40" y="234.4" width="0.8" height="57.2" fill="#ffffff" fill-opacity="0.61"/>
<rect x="443.47" y="256.20" width="0.8" height="35.40" fill="#6d70a0" fill-opacity="0.6"/>
<rect x="443.77" y="234.4" width="0.95" height="57.2" fill="#64679a" fill-opacity="0.75"/>
<rect x="445.15" y="234.4" width="0.8" height="57.2" fill="#ffffff" fill-opacity="0.85"/>
<rect x="445.64" y="234.4" width="0.95" height="57.2" fill="#64679a" fill-opacity="0.79"/>
<rect x="447.19" y="252.28" width="0.8" height="39.32" fill="#6d70a0" fill-opacity="0.6"/>
<rect x="447.90" y="234.4" width="0.95" height="57.2" fill="#64679a" fill-opacity="0.94"/>
<rect x="449.28" y="234.4" width="0.8" height="57.2" fill="#ffffff" fill-opacity="0.78"/>
<text x="345.00" y="211.00" font-size="7" text-anchor="end" font-weight="normal" fill="#000" >−30</text>
<text x="345.00" y="241.50" font-size="7" text-anchor="end" font-weight="normal" fill="#000" >−60</text>
<text x="345.00" y="272.60" font-size="7" text-anchor="end" font-weight="normal" fill="#000" >−90</text>
<text x="346.60" y="299.60" font-size="7.0" text-anchor="middle" font-weight="bold" fill="#000" >0</text>
<text x="398.20" y="299.60" font-size="7.0" text-anchor="middle" font-weight="bold" fill="#000" >25</text>
<text x="449.00" y="299.60" font-size="7.0" text-anchor="middle" font-weight="bold" fill="#000" >50</text>
<text x="401.40" y="308.30" font-size="9.4" text-anchor="middle" font-weight="bold" fill="#000" >Frequency (MHz)</text>
<text transform="translate(333.0,248.0) rotate(-90)" font-size="9.2" text-anchor="middle" font-weight="bold">Intensity (dBm)</text></svg>
</body></html>
